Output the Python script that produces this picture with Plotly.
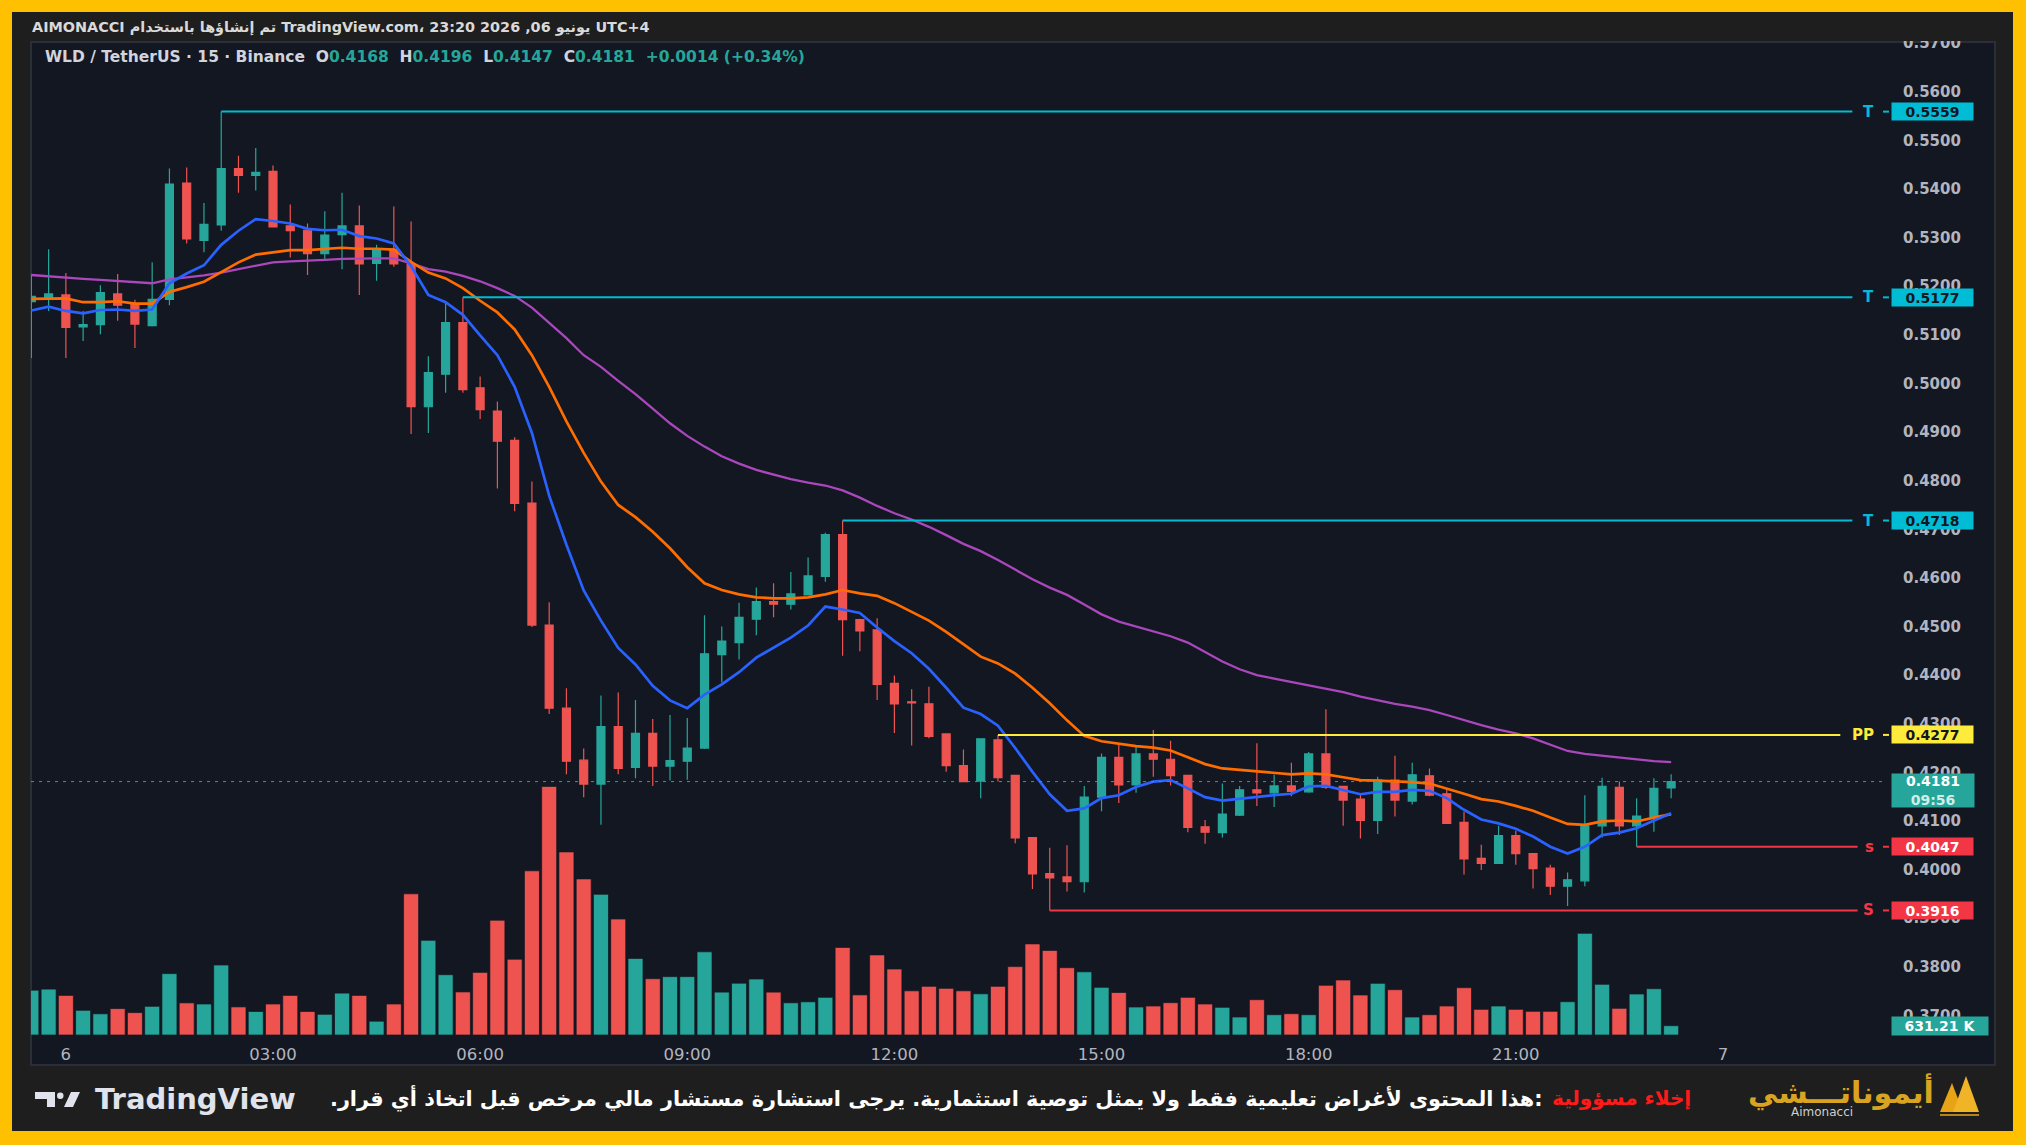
import pandas as pd
import plotly.graph_objects as go

# WLD / TetherUS 15m (Binance), first visible bar is 23:30 on the 5th
start = "2026-06-05 23:30"

opens = [
    0.5168, 0.5174,
    0.5182, 0.5116, 0.5121, 0.5184, 0.5162, 0.5119, 0.5173, 0.5412, 0.5294, 0.5326,
    0.5442, 0.5428, 0.5436, 0.5324, 0.5315, 0.5267, 0.5306, 0.5324, 0.5247, 0.5276,
    0.5246, 0.4952, 0.5019, 0.5125, 0.4991, 0.4943, 0.4883, 0.4754, 0.4503, 0.4332,
    0.4225, 0.4176, 0.4294, 0.4210, 0.4280, 0.4213, 0.4223, 0.4250, 0.4442, 0.4467,
    0.4515, 0.4551, 0.4546, 0.4565, 0.4603, 0.4689, 0.4514, 0.4493, 0.4383, 0.4345,
    0.4341, 0.4279, 0.4214, 0.4182, 0.4267, 0.4194, 0.4066, 0.3992, 0.3985, 0.3975,
    0.4149, 0.4231, 0.4174, 0.4238, 0.4227, 0.4194, 0.4088, 0.4076, 0.4112, 0.4164,
    0.4158, 0.4172, 0.4160, 0.4238, 0.4171, 0.4145, 0.4101, 0.4184, 0.4141, 0.4193,
    0.4156, 0.4097, 0.4023, 0.4013, 0.4070, 0.4033, 0.4003, 0.3966, 0.3977, 0.4090,
    0.4169, 0.4090, 0.4109, 0.4168,
]
highs = [
    0.5225, 0.5276,
    0.5227, 0.5149, 0.5202, 0.5225, 0.5172, 0.5249, 0.5442, 0.5444, 0.5371, 0.5559,
    0.5468, 0.5484, 0.5448, 0.5368, 0.5329, 0.5354, 0.5392, 0.5366, 0.5285, 0.5364,
    0.5333, 0.5056, 0.5167, 0.5177, 0.5014, 0.4963, 0.4889, 0.4798, 0.4550, 0.4373,
    0.4249, 0.4358, 0.4364, 0.4349, 0.4310, 0.4318, 0.4312, 0.4523, 0.4500, 0.4549,
    0.4580, 0.4589, 0.4612, 0.4642, 0.4693, 0.4718, 0.4516, 0.4517, 0.4399, 0.4371,
    0.4376, 0.4280, 0.4247, 0.4270, 0.4277, 0.4194, 0.4066, 0.4045, 0.4050, 0.4172,
    0.4239, 0.4259, 0.4253, 0.4287, 0.4265, 0.4195, 0.4102, 0.4177, 0.4172, 0.4260,
    0.4195, 0.4220, 0.4242, 0.4330, 0.4171, 0.4157, 0.4191, 0.4234, 0.4220, 0.4208,
    0.4167, 0.4119, 0.4051, 0.4090, 0.4080, 0.4033, 0.4010, 0.3994, 0.4153, 0.4189,
    0.4181, 0.4147, 0.4188, 0.4196,
]
lows = [
    0.5052, 0.5149,
    0.5052, 0.5087, 0.5101, 0.5129, 0.5073, 0.5117, 0.5161, 0.5288, 0.5270, 0.5314,
    0.5392, 0.5397, 0.5321, 0.5259, 0.5223, 0.5255, 0.5235, 0.5182, 0.5211, 0.5240,
    0.4896, 0.4898, 0.4981, 0.4981, 0.4927, 0.4784, 0.4737, 0.4499, 0.4320, 0.4196,
    0.4149, 0.4092, 0.4196, 0.4188, 0.4172, 0.4183, 0.4185, 0.4248, 0.4385, 0.4432,
    0.4482, 0.4519, 0.4535, 0.4565, 0.4592, 0.4440, 0.4449, 0.4349, 0.4281, 0.4255,
    0.4270, 0.4201, 0.4181, 0.4147, 0.4181, 0.4054, 0.3960, 0.3916, 0.3955, 0.3953,
    0.4120, 0.4137, 0.4158, 0.4191, 0.4173, 0.4077, 0.4053, 0.4066, 0.4110, 0.4131,
    0.4129, 0.4151, 0.4158, 0.4166, 0.4090, 0.4064, 0.4073, 0.4109, 0.4134, 0.4151,
    0.4095, 0.3990, 0.3999, 0.4013, 0.4010, 0.3961, 0.3948, 0.3925, 0.3966, 0.4066,
    0.4071, 0.4047, 0.4078, 0.4147,
]
closes = [
    0.5179, 0.5184,
    0.5115, 0.5121, 0.5187, 0.5161, 0.5122, 0.5173, 0.5410, 0.5297, 0.5327, 0.5442,
    0.5428, 0.5434, 0.5322, 0.5314, 0.5267, 0.5305, 0.5324, 0.5246, 0.5276, 0.5246,
    0.4952, 0.5022, 0.5125, 0.4987, 0.4946, 0.4881, 0.4753, 0.4503, 0.4332, 0.4223,
    0.4176, 0.4294, 0.4208, 0.4280, 0.4213, 0.4224, 0.4250, 0.4444, 0.4470, 0.4519,
    0.4551, 0.4546, 0.4567, 0.4604, 0.4689, 0.4514, 0.4491, 0.4381, 0.4341, 0.4343,
    0.4274, 0.4214, 0.4181, 0.4269, 0.4189, 0.4065, 0.3991, 0.3983, 0.3975, 0.4149,
    0.4231, 0.4174, 0.4238, 0.4227, 0.4193, 0.4087, 0.4077, 0.4114, 0.4164, 0.4158,
    0.4172, 0.4161, 0.4238, 0.4169, 0.4143, 0.4101, 0.4184, 0.4143, 0.4195, 0.4153,
    0.4095, 0.4022, 0.4013, 0.4070, 0.4033, 0.4002, 0.3966, 0.3979, 0.4090, 0.4171,
    0.4090, 0.4110, 0.4167, 0.4181,
]
# volume in thousands
volume_k = [
    3042, 3117,
    2689, 1677, 1439, 1793, 1521, 1949, 4169, 2180, 2105, 4753,
    1908, 1596, 2105, 2689, 1596, 1406, 2845, 2689, 937, 2105,
    9587, 6430, 4094, 2926, 4251, 7795, 5147, 11149, 16880, 12432,
    10599, 9554, 7876, 5201, 3823, 3965, 3965, 5649, 2913, 3517,
    3802, 2913, 2186, 2254, 2560, 5948, 2723, 5439, 4481, 3001,
    3307, 3171, 3001, 2797, 3307, 4644, 6186, 5744, 4570, 4291,
    3239, 2886, 1901, 1969, 2193, 2560, 2105, 1881, 1222, 2397,
    1378, 1446, 1378, 3375, 3735, 2716, 3510, 3076, 1222, 1378,
    1969, 3212, 1745, 1969, 1745, 1609, 1609, 2261, 6905, 3443,
    1813, 2784, 3144, 631.21,
]
# moving averages as drawn on the chart (blue / orange / purple)
ema_fast = [
    0.5150, 0.5158,
    0.5149, 0.5144, 0.5151, 0.5152, 0.5149, 0.5152, 0.5206, 0.5226, 0.5243, 0.5285,
    0.5314, 0.5338, 0.5334, 0.5329, 0.5318, 0.5315, 0.5316, 0.5303, 0.5298, 0.5288,
    0.5241, 0.5182, 0.5167, 0.5141, 0.5099, 0.5058, 0.4993, 0.4898, 0.4769, 0.4668,
    0.4574, 0.4512, 0.4456, 0.4422, 0.4378, 0.4348, 0.4332, 0.4360, 0.4381, 0.4406,
    0.4436, 0.4457, 0.4477, 0.4502, 0.4541, 0.4535, 0.4528, 0.4498, 0.4470, 0.4445,
    0.4413, 0.4374, 0.4333, 0.4320, 0.4296, 0.4250, 0.4201, 0.4155, 0.4121, 0.4126,
    0.4147, 0.4153, 0.4170, 0.4181, 0.4184, 0.4167, 0.4149, 0.4142, 0.4146, 0.4150,
    0.4153, 0.4156, 0.4171, 0.4172, 0.4164, 0.4155, 0.4160, 0.4160, 0.4164, 0.4162,
    0.4147, 0.4123, 0.4103, 0.4095, 0.4084, 0.4068, 0.4047, 0.4033, 0.4047, 0.4071,
    0.4076, 0.4085, 0.4101, 0.4116,
]
ema_mid = [
    0.5174, 0.5174,
    0.5175, 0.5167, 0.5167, 0.5169, 0.5164, 0.5164, 0.5188, 0.5198, 0.5209, 0.5229,
    0.5249, 0.5265, 0.5269, 0.5274, 0.5274, 0.5276, 0.5279, 0.5277, 0.5277, 0.5275,
    0.5250, 0.5228, 0.5216, 0.5196, 0.5170, 0.5146, 0.5111, 0.5058, 0.4993, 0.4922,
    0.4857, 0.4798, 0.4750, 0.4725, 0.4695, 0.4661, 0.4622, 0.4589, 0.4575, 0.4566,
    0.4560, 0.4558, 0.4558, 0.4560, 0.4566, 0.4575, 0.4568, 0.4563, 0.4548, 0.4530,
    0.4512, 0.4489, 0.4463, 0.4438, 0.4424, 0.4403, 0.4374, 0.4342, 0.4307, 0.4275,
    0.4264, 0.4259, 0.4254, 0.4251, 0.4245, 0.4231, 0.4217, 0.4208, 0.4205, 0.4201,
    0.4198, 0.4196, 0.4198, 0.4196, 0.4190, 0.4184, 0.4183, 0.4182, 0.4180, 0.4177,
    0.4167, 0.4156, 0.4145, 0.4140, 0.4131, 0.4121, 0.4107, 0.4094, 0.4092, 0.4099,
    0.4101, 0.4099, 0.4107, 0.4114,
]
ema_slow = [
    0.5223, 0.5220,
    0.5217, 0.5215, 0.5213, 0.5211, 0.5208, 0.5206, 0.5214, 0.5218, 0.5222, 0.5228,
    0.5235, 0.5242, 0.5249, 0.5251, 0.5252, 0.5254, 0.5256, 0.5257, 0.5257, 0.5257,
    0.5247, 0.5235, 0.5230, 0.5221, 0.5210, 0.5196, 0.5180, 0.5156, 0.5125, 0.5093,
    0.5058, 0.5034, 0.5005, 0.4978, 0.4948, 0.4918, 0.4892, 0.4870, 0.4850, 0.4835,
    0.4822, 0.4812, 0.4803, 0.4796, 0.4790, 0.4780, 0.4765, 0.4748, 0.4733, 0.4720,
    0.4705, 0.4688, 0.4670, 0.4655, 0.4637, 0.4617, 0.4597, 0.4580, 0.4565, 0.4545,
    0.4525, 0.4510, 0.4500, 0.4490, 0.4480, 0.4467, 0.4448, 0.4428, 0.4412, 0.4400,
    0.4393, 0.4386, 0.4380, 0.4373, 0.4365, 0.4356, 0.4348, 0.4341, 0.4335, 0.4328,
    0.4318, 0.4307, 0.4297, 0.4288, 0.4280, 0.4270, 0.4257, 0.4244, 0.4238, 0.4234,
    0.4230, 0.4226, 0.4223, 0.4221,
]

# horizontal levels drawn by the author: name, price, bar where the ray starts
level_names = ["T", "T", "T", "PP", "s", "S"]
level_prices = [0.5559, 0.5177, 0.4718, 0.4277, 0.4047, 0.3916]
level_start = [11, 25, 47, 56, 93, 59]

price_ticks = [0.37, 0.38, 0.39, 0.40, 0.41, 0.42, 0.43, 0.44, 0.45, 0.46, 0.47,
               0.48, 0.49, 0.50, 0.51, 0.52, 0.53, 0.54, 0.55, 0.56, 0.57]
time_labels = ["6", "03:00", "06:00", "09:00", "12:00", "15:00", "18:00", "21:00", "7"]

GREEN = "#26a69a"
RED = "#ef5350"
BG = "#131722"
FRAME = "#1e1e1e"
YELLOW = "#ffc000"
AXIS_TXT = "#b2b5be"
FONT = "DejaVu Sans"

times = pd.date_range(start, periods=len(opens), freq="15min")
day = pd.Timestamp("2026-06-06 00:00")
time_ticks = pd.date_range(day, periods=len(time_labels), freq="3h")


def bar_at(i):
    # i counted in 15m bars from midnight of the 6th
    return day + pd.Timedelta(minutes=15 * i)


# plot area in pixels
L, R, T, B = 31, 1880, 42, 1035


def px(x):
    return (x - L) / (R - L)


def py(y):
    return (B - y) / (B - T)


vol_colors = [GREEN if c >= o else RED for o, c in zip(opens, closes)]

fig = go.Figure()
fig.add_trace(go.Bar(x=times, y=volume_k, marker_color=vol_colors,
                     marker_line=dict(color="rgba(19,23,34,0.7)", width=1),
                     hoverinfo="skip"))
fig.add_trace(go.Candlestick(
    x=times, open=opens, high=highs, low=lows, close=closes, yaxis="y2",
    increasing=dict(line=dict(color=GREEN, width=1.2), fillcolor=GREEN),
    decreasing=dict(line=dict(color=RED, width=1.2), fillcolor=RED),
    hoverinfo="skip"))
for vals, col, w in [(ema_slow, "#ab47bc", 2.3), (ema_mid, "#ff6d00", 2.7), (ema_fast, "#2962ff", 2.7)]:
    fig.add_trace(go.Scatter(x=times, y=vals, mode="lines", yaxis="y2",
                             line=dict(color=col, width=w), hoverinfo="skip"))

shapes = [
    dict(type="rect", xref="paper", yref="paper", x0=px(12), x1=px(2013), y0=py(1131), y1=py(12),
         fillcolor=FRAME, line_width=0, layer="below"),
    dict(type="rect", xref="paper", yref="paper", x0=px(31), x1=px(1995), y0=py(1065), y1=py(42),
         fillcolor=BG, line=dict(color="#2a2e39", width=2), layer="below"),
    # header strip hides the clipped top tick, as in the screenshot
    dict(type="rect", xref="paper", yref="paper", x0=px(12), x1=px(2013), y0=py(41), y1=py(12),
         fillcolor=FRAME, line_width=0, layer="above"),
    # last price dotted line
    dict(type="line", xref="paper", yref="y2", x0=0, x1=px(1886), y0=closes[-1], y1=closes[-1],
         line=dict(color=GREEN, width=1, dash="3px,5px")),
]

annotations = []
level_style = {"T": ("#00bcd4", "#131722", 103.5),
               "PP": ("#ffeb3b", "#131722", 102.8),
               "s": ("#f23645", "#ffffff", 103.8),
               "S": ("#f23645", "#ffffff", 103.8)}
for name, price, s in zip(level_names, level_prices, level_start):
    col, txt, end = level_style[name]
    shapes.append(dict(type="line", xref="x", yref="y2", x0=times[s], x1=bar_at(end),
                       y0=price, y1=price, line=dict(color=col, width=2)))
    shapes.append(dict(type="line", xref="paper", yref="y2", x0=px(1883), x1=px(1889),
                       y0=price, y1=price, line=dict(color=col, width=2)))
    annotations.append(dict(xref="paper", yref="y2", x=px(1876), y=price, xanchor="right",
                            yanchor="middle", text=name, showarrow=False,
                            font=dict(family=FONT, size=15, color=col, weight="bold")))
    annotations.append(dict(xref="paper", yref="y2", x=px(1891), y=price, xanchor="left",
                            yanchor="middle", text=f"{price:.4f}", showarrow=False,
                            bgcolor=col, width=79, height=15, borderpad=1, align="center",
                            font=dict(family=FONT, size=14, color=txt, weight="bold")))

# last price / countdown and last volume boxes
annotations.append(dict(xref="paper", yref="y2", x=px(1891), y=closes[-1], xanchor="left",
                        yanchor="top", yshift=8.5, showarrow=False, bgcolor=GREEN,
                        width=80, height=31, borderpad=1, align="center",
                        text=f"{closes[-1]:.4f}<br><span style='color:#cfeee9'>09:56</span>",
                        font=dict(family=FONT, size=14, color="#ffffff", weight="bold")))
annotations.append(dict(xref="paper", yref="y", x=px(1891), y=volume_k[-1], xanchor="left",
                        yanchor="middle", showarrow=False, bgcolor=GREEN,
                        width=94, height=16, borderpad=1, align="center",
                        text=f"{volume_k[-1]:.2f} K",
                        font=dict(family=FONT, size=14, color="#ffffff", weight="bold")))

# header and legend line
annotations.append(dict(xref="paper", yref="paper", x=px(30), y=py(27), xanchor="left",
                        yanchor="middle", showarrow=False,
                        text="AIMONACCI تم إنشاؤها باستخدام TradingView.com، 23:20 2026 ,06 يونيو UTC+4",
                        font=dict(family=FONT, size=14.4, color="#d9d9d9", weight="bold")))
chg = closes[-1] - closes[-2]
vc = f"<span style='color:{GREEN}'>"
legend_txt = (f"WLD / TetherUS · 15 · Binance  O{vc}{opens[-1]:.4f}</span>  H{vc}{highs[-1]:.4f}</span>"
              f"  L{vc}{lows[-1]:.4f}</span>  C{vc}{closes[-1]:.4f}</span>"
              f"  {vc}{chg:+.4f} ({chg / closes[-2] * 100:+.2f}%)</span>")
annotations.append(dict(xref="paper", yref="paper", x=px(43), y=py(57), xanchor="left",
                        yanchor="middle", showarrow=False, text=legend_txt,
                        font=dict(family=FONT, size=15.5, color="#d1d4dc", weight="bold")))

# footer
annotations.append(dict(xref="paper", yref="paper", x=px(93), y=py(1099), xanchor="left",
                        yanchor="middle", showarrow=False, text="TradingView",
                        font=dict(family=FONT, size=29, color="#e0e3eb", weight="bold")))
annotations.append(dict(xref="paper", yref="paper", x=px(1545), y=py(1098), xanchor="right",
                        yanchor="middle", showarrow=False,
                        text="\u200f:هذا المحتوى لأغراض تعليمية فقط ولا يمثل توصية استثمارية. يرجى استشارة مستشار مالي مرخص قبل اتخاذ أي قرار.\u200f",
                        font=dict(family=FONT, size=20.8, color="#ffffff", weight="bold")))
annotations.append(dict(xref="paper", yref="paper", x=px(1693), y=py(1098), xanchor="right",
                        yanchor="middle", showarrow=False, text="\u200fإخلاء مسؤولية\u200f",
                        font=dict(family=FONT, size=20, color="#ff1a1a", weight="bold")))
annotations.append(dict(xref="paper", yref="paper", x=px(1936), y=py(1092), xanchor="right",
                        yanchor="middle", showarrow=False, text="\u200fأيموناتـــشي\u200f",
                        font=dict(family=FONT, size=30, color="#d9a521", weight="bold")))
annotations.append(dict(xref="paper", yref="paper", x=px(1822), y=py(1112), xanchor="center",
                        yanchor="middle", showarrow=False, text="Aimonacci",
                        font=dict(family=FONT, size=12, color="#cfcfcf")))


def path(points):
    return "M" + " L".join(f"{px(a):.5f},{py(b):.5f}" for a, b in points) + " Z"


# TradingView mark
shapes.append(dict(type="path", xref="paper", yref="paper", line_width=0, fillcolor="#e0e3eb",
                   path=path([(35, 1092), (55, 1092), (55, 1107), (47, 1107), (47, 1099), (35, 1099)])))
shapes.append(dict(type="circle", xref="paper", yref="paper", line_width=0, fillcolor="#e0e3eb",
                   x0=px(57), x1=px(63.5), y0=py(1099), y1=py(1092.5)))
shapes.append(dict(type="path", xref="paper", yref="paper", line_width=0, fillcolor="#e0e3eb",
                   path=path([(64, 1107), (71, 1092), (80, 1092), (73, 1107)])))
# Aimonacci mountain mark
shapes.append(dict(type="path", xref="paper", yref="paper", line_width=0, fillcolor="#e8a317",
                   path=path([(1940, 1112), (1952, 1083), (1963, 1112)])))
shapes.append(dict(type="path", xref="paper", yref="paper", line_width=0, fillcolor="#f0b429",
                   path=path([(1953, 1112), (1966, 1076), (1979, 1112)])))
shapes.append(dict(type="line", xref="paper", yref="paper", x0=px(1940), x1=px(1979),
                   y0=py(1115), y1=py(1115), line=dict(color="#e8a317", width=1.5)))

fig.update_layout(
    width=2026, height=1145,
    margin=dict(l=L, r=2026 - R, t=T, b=1145 - B),
    paper_bgcolor=YELLOW, plot_bgcolor=BG,
    showlegend=False, bargap=0.13, boxgap=0.34,
    shapes=shapes, annotations=annotations,
    xaxis=dict(type="date", range=[bar_at(-2.02), bar_at(105.1)],
               rangeslider=dict(visible=False), showgrid=False, zeroline=False,
               showline=False, ticks="", tickvals=time_ticks, ticktext=time_labels,
               tickfont=dict(family=FONT, size=16.5, color=AXIS_TXT), ticklabelstandoff=7),
    yaxis=dict(range=[0, 67425], visible=False, fixedrange=True),
    yaxis2=dict(overlaying="y", side="right", range=[0.36598, 0.57022],
                tickvals=price_ticks, ticktext=[f"{v:.4f}" for v in price_ticks],
                showgrid=False, zeroline=False, showline=False, ticks="",
                tickfont=dict(family=FONT, size=15, color=AXIS_TXT, weight="bold"),
                ticklabelstandoff=22),
)

# the page body margin would shift the whole picture by 8px
fig.write_html("out.html", config={"displayModeBar": False},
               post_script="document.body.style.margin='0';document.body.style.overflow='hidden';")
